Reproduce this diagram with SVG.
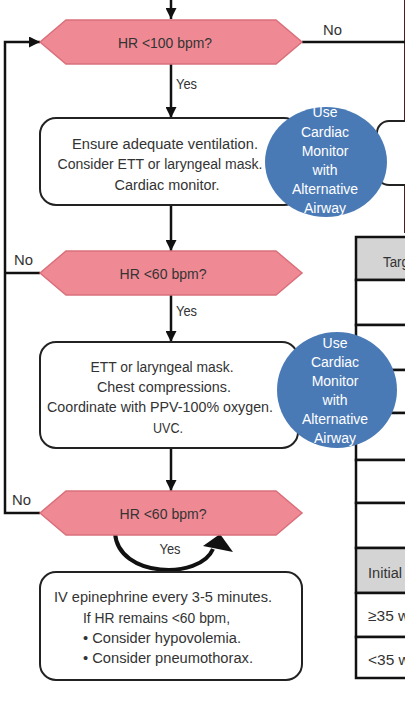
<svg xmlns="http://www.w3.org/2000/svg" width="405" height="720" viewBox="0 0 405 720">
<defs>
<style>
.t{font-family:"Liberation Sans",Arial,sans-serif;font-size:15.5px;fill:#333;}
.c{text-anchor:middle;}
.w{font-family:"Liberation Sans",Arial,sans-serif;font-size:14px;fill:#fff;text-anchor:middle;}
.hex{fill:#ef8a94;stroke:#d9707c;stroke-width:1.5;}
.box{fill:#fff;stroke:#222;stroke-width:2;}
.bub{fill:#4a7ab6;}
.ln{fill:none;stroke:#111;stroke-width:2.5;}
.tb{fill:#fff;stroke:#111;stroke-width:2.5;}
.tg{fill:#d4d4d4;stroke:#111;stroke-width:2.5;}
</style>
<marker id="ah" viewBox="0 0 10 10" refX="10" refY="5" markerWidth="12" markerHeight="11" markerUnits="userSpaceOnUse" orient="auto">
<path d="M0,0 L10,5 L0,10 z" fill="#111"/>
</marker>
</defs>
<rect width="405" height="720" fill="#fff"/>
<line x1="404.5" y1="0" x2="404.5" y2="233" stroke="#4a2020" stroke-width="1"/>

<g id="table">
<rect class="tg" x="356" y="237" width="80" height="43"/>
<rect class="tb" x="356" y="280" width="80" height="45"/>
<rect class="tb" x="356" y="325" width="80" height="45"/>
<rect class="tb" x="356" y="370" width="80" height="43"/>
<rect class="tb" x="356" y="413" width="80" height="47"/>
<rect class="tb" x="356" y="460" width="80" height="43"/>
<rect class="tb" x="356" y="503" width="80" height="45"/>
<rect class="tg" x="356" y="548" width="80" height="45"/>
<rect class="tb" x="356" y="593" width="80" height="44"/>
<rect class="tb" x="356" y="637" width="80" height="41"/>
<text class="t" x="383" y="267" textLength="26" lengthAdjust="spacingAndGlyphs">Targ</text>
<text class="t" x="368" y="578" textLength="34" lengthAdjust="spacingAndGlyphs">Initial</text>
<text class="t" x="368" y="621">≥35 w</text>
<text class="t" x="368" y="665">&lt;35 w</text>
</g>

<g id="connectors">
<line class="ln" x1="171" y1="0" x2="171" y2="19" marker-end="url(#ah)"/>
<line class="ln" x1="302" y1="42" x2="405" y2="42"/>
<line class="ln" x1="171" y1="64" x2="171" y2="118" marker-end="url(#ah)"/>
<line class="ln" x1="171" y1="205" x2="171" y2="251" marker-end="url(#ah)"/>
<line class="ln" x1="171" y1="295" x2="171" y2="342" marker-end="url(#ah)"/>
<line class="ln" x1="171" y1="448" x2="171" y2="491" marker-end="url(#ah)"/>
<polyline class="ln" points="40,513 5,513 5,42 40,42" marker-end="url(#ah)"/>
<line class="ln" x1="40" y1="273" x2="5" y2="273"/>
<path d="M115 533 C118 578 200 580 213 549" fill="none" stroke="#111" stroke-width="4"/>
<polygon points="220,534 233,552 203,546" fill="#111"/>
<text class="t" x="176" y="89" textLength="21" lengthAdjust="spacingAndGlyphs">Yes</text>
<text class="t" x="176" y="316" textLength="21" lengthAdjust="spacingAndGlyphs">Yes</text>
<text class="t c" x="170" y="554" textLength="21" lengthAdjust="spacingAndGlyphs">Yes</text>
<text class="t" x="323" y="35" textLength="19" lengthAdjust="spacingAndGlyphs">No</text>
<text class="t" x="14" y="265" textLength="19" lengthAdjust="spacingAndGlyphs">No</text>
<text class="t" x="12" y="505" textLength="19" lengthAdjust="spacingAndGlyphs">No</text>
</g>

<g id="hr100">
<polygon class="hex" points="40,42 66,20 276,20 302,42 276,64 66,64"/>
<text class="t c" x="165" y="48" textLength="94" lengthAdjust="spacingAndGlyphs">HR &lt;100 bpm?</text>
</g>

<g id="partial-box">
<rect class="box" x="377" y="121" width="60" height="64" rx="12"/>
</g>

<g id="ventilation">
<rect class="box" x="40" y="118" width="260" height="87" rx="16"/>
<text class="t c" x="165" y="149" textLength="186" lengthAdjust="spacingAndGlyphs">Ensure adequate ventilation.</text>
<text class="t c" x="160" y="169" textLength="205" lengthAdjust="spacingAndGlyphs">Consider ETT or laryngeal mask.</text>
<text class="t c" x="167" y="190" textLength="105" lengthAdjust="spacingAndGlyphs">Cardiac monitor.</text>
</g>

<g id="bubble1">
<ellipse class="bub" cx="326" cy="162" rx="61" ry="55"/>
<text class="w" x="325" y="117">Use</text>
<text class="w" x="325" y="137">Cardiac</text>
<text class="w" x="325" y="156">Monitor</text>
<text class="w" x="325" y="175">with</text>
<text class="w" x="325" y="194">Alternative</text>
<text class="w" x="325" y="213">Airway</text>
</g>

<g id="hr60a">
<polygon class="hex" points="40,273 66,251 276,251 302,273 276,295 66,295"/>
<text class="t c" x="163" y="279" textLength="87" lengthAdjust="spacingAndGlyphs">HR &lt;60 bpm?</text>
</g>

<g id="compressions">
<rect class="box" x="40" y="342" width="258" height="106" rx="16"/>
<text class="t c" x="162" y="372" textLength="143" lengthAdjust="spacingAndGlyphs">ETT or laryngeal mask.</text>
<text class="t c" x="164" y="392" textLength="134" lengthAdjust="spacingAndGlyphs">Chest compressions.</text>
<text class="t c" x="160" y="412" textLength="226" lengthAdjust="spacingAndGlyphs">Coordinate with PPV-100% oxygen.</text>
<text class="t c" x="168" y="433" textLength="30" lengthAdjust="spacingAndGlyphs">UVC.</text>
</g>

<g id="bubble2">
<ellipse class="bub" cx="337" cy="390" rx="60" ry="58"/>
<text class="w" x="335" y="348">Use</text>
<text class="w" x="335" y="367">Cardiac</text>
<text class="w" x="335" y="386">Monitor</text>
<text class="w" x="335" y="405">with</text>
<text class="w" x="335" y="424">Alternative</text>
<text class="w" x="335" y="443">Airway</text>
</g>

<g id="hr60b">
<polygon class="hex" points="40,513 66,491 276,491 302,513 276,535 66,535"/>
<text class="t c" x="163" y="519" textLength="87" lengthAdjust="spacingAndGlyphs">HR &lt;60 bpm?</text>
</g>

<g id="epinephrine">
<rect class="box" x="40" y="572" width="262" height="108" rx="16"/>
<text class="t c" x="163" y="602" textLength="218" lengthAdjust="spacingAndGlyphs">IV epinephrine every 3-5 minutes.</text>
<text class="t" x="83" y="623" textLength="147" lengthAdjust="spacingAndGlyphs">If HR remains &lt;60 bpm,</text>
<text class="t" x="83" y="643" textLength="158" lengthAdjust="spacingAndGlyphs">• Consider hypovolemia.</text>
<text class="t" x="83" y="663" textLength="170" lengthAdjust="spacingAndGlyphs">• Consider pneumothorax.</text>
</g>
</svg>
